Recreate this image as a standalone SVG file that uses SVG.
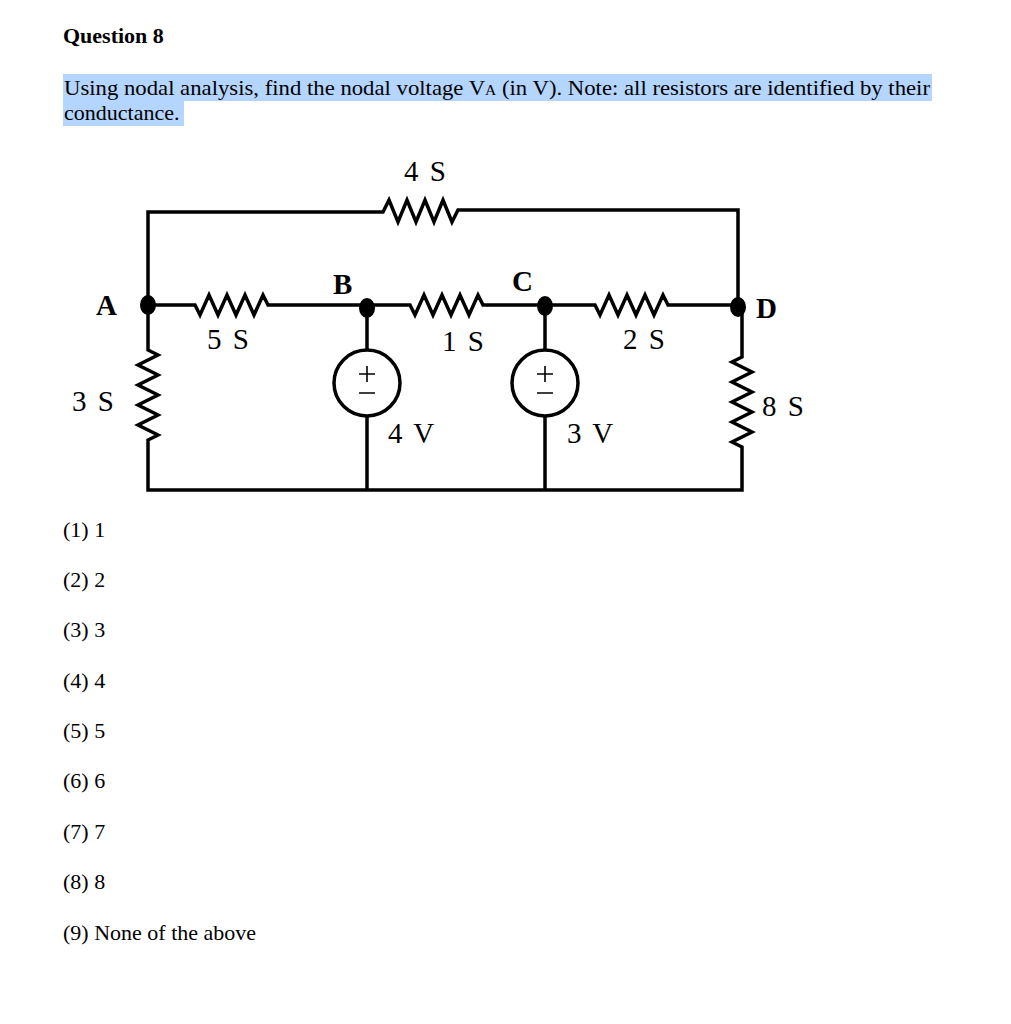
<svg xmlns="http://www.w3.org/2000/svg" width="1011" height="1024" viewBox="0 0 1011 1024">
<style>
.t{font-family:"Liberation Serif",serif;fill:#000}
.w{stroke:#000;stroke-width:3.5;fill:none;stroke-linejoin:miter}
.l{font-family:"Liberation Serif",serif;font-size:29px;letter-spacing:2px}
.b{font-family:"Liberation Serif",serif;font-size:29px;font-weight:bold}
.o{font-family:"Liberation Serif",serif;font-size:22px}
</style>
<rect width="1011" height="1024" fill="#fff"/>
<text class="t" x="63" y="43" font-size="22" font-weight="bold">Question 8</text>
<rect x="63" y="74" width="869" height="27" fill="#b4d5fe"/>
<rect x="63" y="101" width="121" height="25" fill="#b4d5fe"/>
<text class="t" x="64" y="95" font-size="22" textLength="866" lengthAdjust="spacingAndGlyphs">Using nodal analysis, find the nodal voltage V<tspan font-size="15">A</tspan> (in V). Note: all resistors are identified by their</text>
<text class="t" x="64" y="120" font-size="22">conductance.</text>
<g id="connectors">
<path class="w" d="M148,305 V212 H383 l6,-12 l9,22 l9,-22 l9,22 l9,-22 l9,22 l9,-22 l9,22 l6,-12 H738 V307"/>
<path class="w" d="M148,305 H195 l5,10 l9,-20 l9,20 l9,-20 l9,20 l9,-20 l9,20 l9,-20 l5,10 H367 H410 l5,10 l9,-20 l9,20 l9,-20 l9,20 l9,-20 l9,20 l9,-20 l5,10 H545 H595 l5,10 l9,-20 l9,20 l9,-20 l9,20 l9,-20 l9,20 l9,-20 l5,10 H738"/>
<path class="w" d="M148,305 V350 l10,5 l-20,10 l20,10 l-20,10 l20,10 l-20,10 l20,10 l-20,10 l20,10 l-10,5 V490 H742 V447 l-10,-5 l20,-10 l-20,-10 l20,-10 l-20,-10 l20,-10 l-20,-10 l20,-10 l-20,-10 l10,-5 V307"/>
<path class="w" d="M367,308 V350 M367,416 V490 M545,306 V350 M545,416 V490"/>
</g>
<g id="A"><ellipse cx="148" cy="305" rx="8" ry="10"/><text class="b" x="96" y="315">A</text></g>
<g id="B"><ellipse cx="367" cy="308" rx="8" ry="10"/><text class="b" x="333" y="294">B</text></g>
<g id="C"><ellipse cx="545" cy="306" rx="8" ry="10"/><text class="b" x="512" y="291">C</text></g>
<g id="D"><ellipse cx="738" cy="307" rx="8" ry="10"/><text class="b" x="756" y="318">D</text></g>
<g id="V4"><ellipse class="w" cx="367" cy="383" rx="33" ry="33"/><path d="M367,366 v16 M359,374 h16 M359,393 h16" stroke="#000" stroke-width="1.6"/><text class="l" x="388" y="443">4 V</text></g>
<g id="V3"><ellipse class="w" cx="545" cy="383" rx="33" ry="33"/><path d="M545,366 v16 M537,374 h16 M537,393 h16" stroke="#000" stroke-width="1.6"/><text class="l" x="567" y="443">3 V</text></g>
<text class="l" x="404" y="181">4 S</text>
<text class="l" x="207" y="349">5 S</text>
<text class="l" x="442" y="351">1 S</text>
<text class="l" x="623" y="349">2 S</text>
<text class="l" x="72" y="411">3 S</text>
<text class="l" x="762" y="416">8 S</text>
<text class="o" x="63" y="537">(1) 1</text>
<text class="o" x="63" y="587">(2) 2</text>
<text class="o" x="63" y="637">(3) 3</text>
<text class="o" x="63" y="688">(4) 4</text>
<text class="o" x="63" y="738">(5) 5</text>
<text class="o" x="63" y="788">(6) 6</text>
<text class="o" x="63" y="839">(7) 7</text>
<text class="o" x="63" y="889">(8) 8</text>
<text class="o" x="63" y="940">(9) None of the above</text>
</svg>
